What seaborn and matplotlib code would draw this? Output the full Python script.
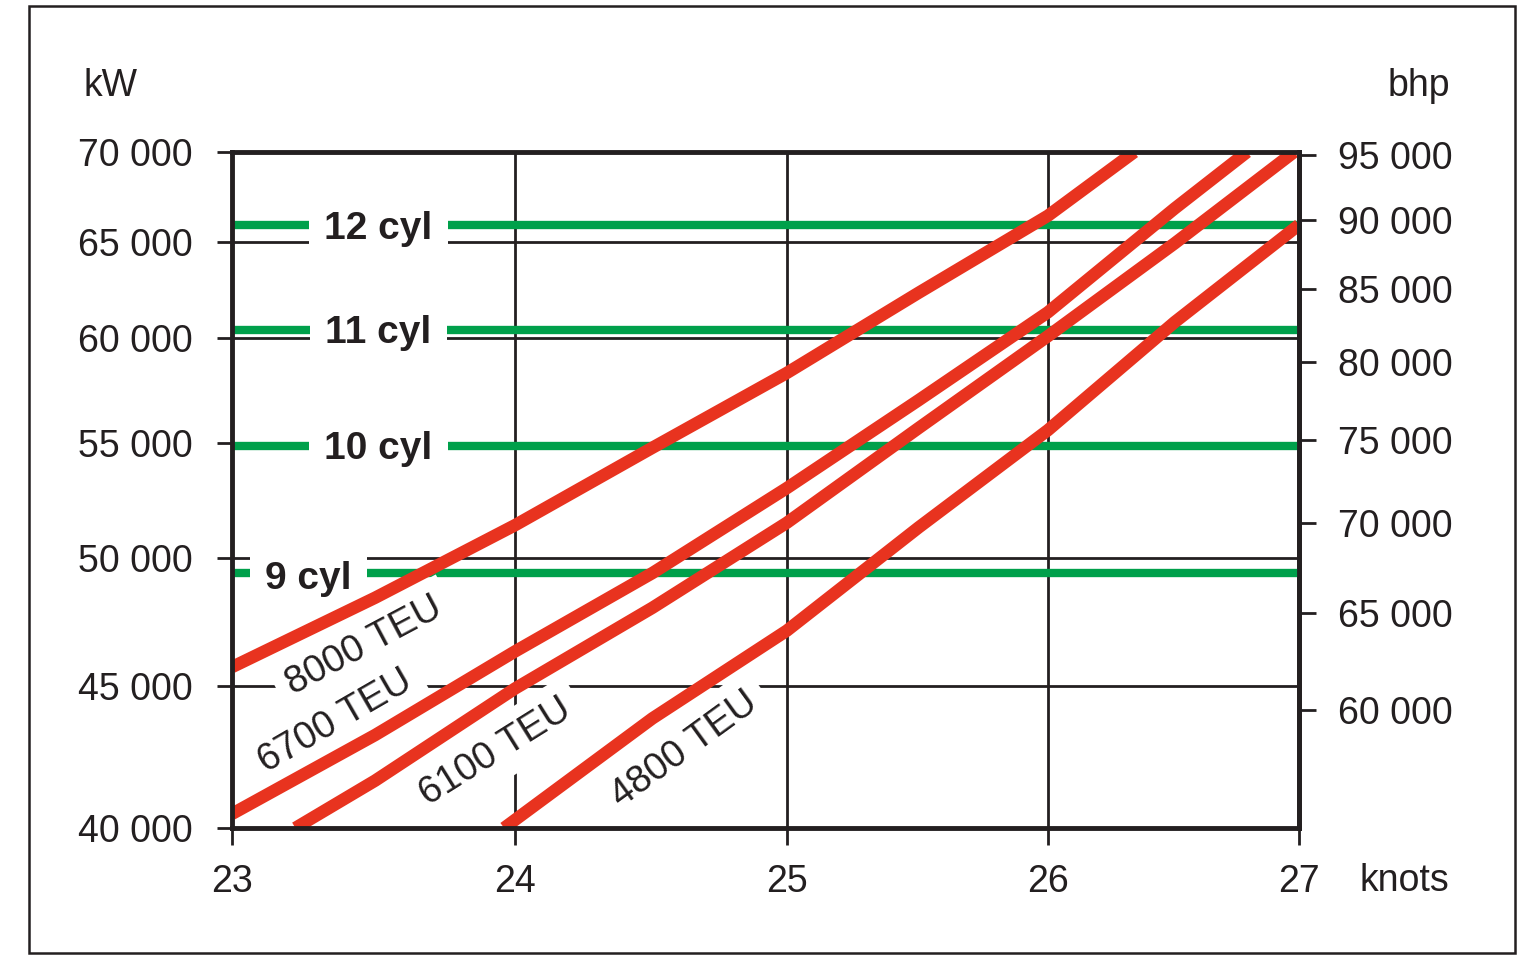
import numpy as np
import pandas as pd
import matplotlib
matplotlib.use("Agg")
import matplotlib.pyplot as plt
import seaborn as sns
from matplotlib.ticker import FixedLocator, NullLocator, FuncFormatter
from matplotlib.patches import Rectangle

sns.set_theme(style="ticks")
plt.rcParams['font.family'] = ['Liberation Sans', 'DejaVu Sans']

# ship speed (knots) vs propulsion power (kW) per container ship size
ships = ['8000 TEU', '6700 TEU', '6100 TEU', '4800 TEU']
speed_8000 = [23.0, 23.5, 24.0, 24.5, 25.0, 25.5, 26.0, 26.34]
power_8000 = [45700, 48400, 51400, 54800, 58300, 62300, 66400, 70000]
speed_6700 = [23.0, 23.5, 24.0, 24.5, 25.0, 25.5, 26.0, 26.5, 26.79]
power_6700 = [40470, 43200, 46300, 49400, 53000, 57000, 61300, 66800, 70000]
speed_6100 = [23.22, 23.5, 24.0, 24.5, 25.0, 25.5, 26.0, 26.5, 26.98]
power_6100 = [40000, 41600, 44900, 48000, 51500, 55700, 60100, 64900, 70000]
speed_4800 = [23.96, 24.5, 25.0, 25.5, 26.0, 26.5, 27.0]
power_4800 = [40000, 43800, 47100, 51300, 55600, 60800, 65900]

# engine output per number of cylinders (kW)
cylinders = ['9 cyl', '10 cyl', '11 cyl', '12 cyl']
cyl_power = [49410, 54900, 60390, 65880]

speed_ticks = [23, 24, 25, 26, 27]
kw_ticks = [40000, 45000, 50000, 55000, 60000, 65000, 70000]
bhp_ticks = [60000, 65000, 70000, 75000, 80000, 85000, 90000, 95000]
KW_TO_BHP = 1.36

RED = '#e8331f'
GREEN = '#00a04b'
INK = '#231f20'

frames = []
for name, sp, pw in [(ships[0], speed_8000, power_8000),
                     (ships[1], speed_6700, power_6700),
                     (ships[2], speed_6100, power_6100),
                     (ships[3], speed_4800, power_4800)]:
    frames.append(pd.DataFrame({'ship': name, 'knots': sp, 'kW': pw}))
df = pd.concat(frames, ignore_index=True)

fig = plt.figure(figsize=(15.24, 9.58), dpi=100)
ax = fig.add_axes([0.15223, 0.13570, 0.70013, 0.70564])
ax.set_xscale('log')
ax.set_yscale('log')
ax.set_xlim(23, 27)
ax.set_ylim(40000, 70000)

# cylinder lines
for kw in cyl_power:
    ax.axhline(kw, color=GREEN, linewidth=6, zorder=2, solid_capstyle='butt')

sns.lineplot(data=df, x='knots', y='kW', hue='ship',
             palette={s: RED for s in ships}, legend=False,
             estimator=None, sort=False, linewidth=9,
             solid_capstyle='butt', zorder=4, ax=ax)

thousands = FuncFormatter(lambda v, p: f"{int(round(v)):,}".replace(',', ' '))

ax.xaxis.set_major_locator(FixedLocator(speed_ticks))
ax.xaxis.set_minor_locator(NullLocator())
ax.xaxis.set_major_formatter(FuncFormatter(lambda v, p: f"{v:g}"))
ax.yaxis.set_major_locator(FixedLocator(kw_ticks))
ax.yaxis.set_minor_locator(NullLocator())
ax.yaxis.set_major_formatter(thousands)

ax.grid(True, which='major', color=INK, linewidth=2)
ax.set_axisbelow(True)
ax.set_xlabel('')
ax.set_ylabel('')

for side in ['left', 'right', 'top', 'bottom']:
    ax.spines[side].set_visible(True)
    ax.spines[side].set_color(INK)
    ax.spines[side].set_linewidth(3.5)
    ax.spines[side].set_zorder(6)

ax.tick_params(axis='y', which='major', direction='out', length=11, width=2,
               pad=17, labelsize=27, colors=INK, right=False)
ax.tick_params(axis='x', which='major', direction='out', length=12, width=2,
               pad=14, labelsize=27, colors=INK, top=False)

sec = ax.secondary_yaxis('right', functions=(lambda k: k * KW_TO_BHP,
                                             lambda b: b / KW_TO_BHP))
sec.yaxis.set_major_locator(FixedLocator(bhp_ticks))
sec.yaxis.set_minor_locator(NullLocator())
sec.yaxis.set_major_formatter(thousands)
sec.tick_params(axis='y', which='major', direction='out', length=12, width=2,
                pad=16, labelsize=27, colors=INK)
sec.spines['right'].set_color(INK)
sec.spines['right'].set_linewidth(3.5)

# cylinder labels on white boxes
cyl_box = dict(boxstyle='square,pad=0.4', facecolor='white', edgecolor='none')
cyl_pos = {'9 cyl': (23.266, -11.5), '10 cyl': (23.512, -9.4),
           '11 cyl': (23.512, -9.4), '12 cyl': (23.512, -10)}
for name, kw in zip(cylinders, cyl_power):
    x, dy = cyl_pos[name]
    ax.annotate(name, xy=(x, kw), xytext=(0, dy), textcoords='offset points',
                ha='center', va='baseline', fontsize=28, fontweight='bold',
                color=INK, bbox=cyl_box, zorder=3)

# ship size labels along the curves
teu_box = dict(boxstyle='square,pad=0.3', facecolor='white', edgecolor='none')
teu_pos = {'8000 TEU': (23.46, 46500, 28), '6700 TEU': (23.36, 43700, 30),
           '6100 TEU': (23.93, 42600, 32), '4800 TEU': (24.62, 42700, 36)}
for name in ships:
    x, y, rot = teu_pos[name]
    ax.text(x, y, name, rotation=rot, rotation_mode='anchor',
            ha='center', va='center', fontsize=27.5, color=INK,
            bbox=teu_box, zorder=3)

fig.text(83 / 1524, 1 - 96 / 958, 'kW', ha='left', va='baseline',
         fontsize=27, color=INK)
fig.text(1450 / 1524, 1 - 96 / 958, 'bhp', ha='right', va='baseline',
         fontsize=27, color=INK)
fig.text(1449 / 1524, 1 - 891 / 958, 'knots', ha='right', va='baseline',
         fontsize=27, color=INK)

fig.patches.append(Rectangle((29 / 1524, 1 - 953 / 958), 1486 / 1524, 947 / 958,
                             transform=fig.transFigure, fill=False,
                             edgecolor=INK, linewidth=1.8))

fig.savefig('out.png', dpi=100)
